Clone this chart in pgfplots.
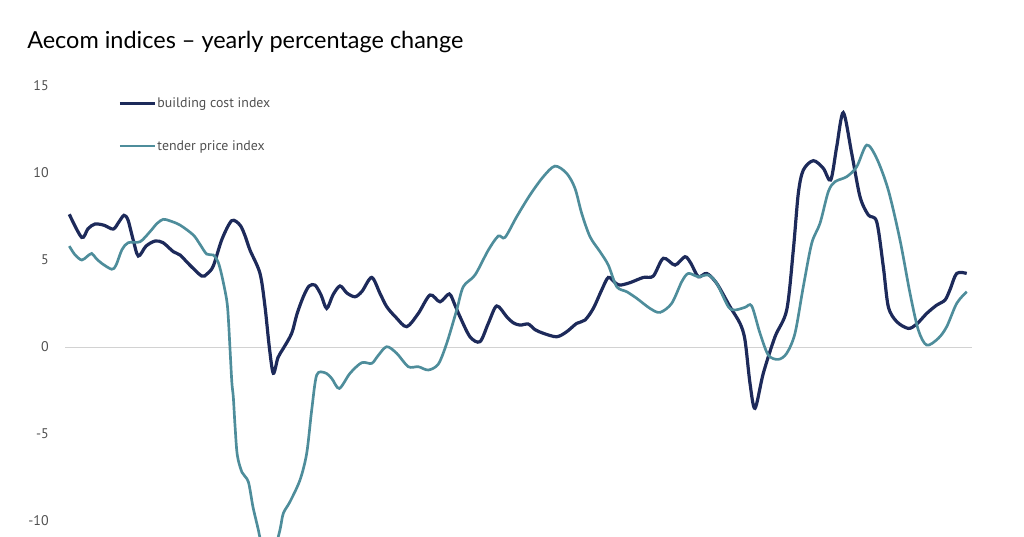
\documentclass[border=0pt]{standalone}
\usepackage{pgfplots}
\pgfplotsset{compat=1.18}
\usepackage{pgfplotstable}
\usepackage{fontspec}
\setmainfont{PT Sans}
\newfontfamily\titlefont{Lato}
\definecolor{navy}{HTML}{1D2A5A}
\definecolor{teal2}{HTML}{4E8D9B}
\definecolor{labgray}{HTML}{505050}

\pgfplotstableread{
x y
69.3 7.63
81.7 6.30
88 6.8
95 7.07
104 7.0
113.3 6.78
119 7.2
124 7.57
128 7.3
133 6.2
138.3 5.23
146 5.8
155 6.09
163 6.0
173.3 5.48
180 5.29
190 4.7
201.7 4.08
207 4.2
213.3 4.66
222 6.2
231.7 7.26
240 7.01
245 6.4
250 5.57
260 4.23
265 2.32
269.3 0.0
273.3 -1.51
278 -0.6
283.3 -0.08
291.7 0.79
297 1.9
303.3 2.89
309 3.5
315 3.56
321 3.0
326.7 2.22
333 3.0
340 3.51
347 3.1
355 2.89
362 3.2
371.7 4.0
380 3.08
386.7 2.32
396 1.7
406.7 1.17
418.3 1.93
430 2.99
440 2.60
449.3 3.05
455 2.4
460 1.74
470 0.59
480 0.31
488.3 1.36
496.7 2.36
506.7 1.74
513 1.4
520 1.26
528.3 1.32
535 1.0
543.3 0.79
556.7 0.59
566.7 0.88
576.7 1.36
585 1.55
593.3 2.22
601.7 3.28
608.3 4.0
615 3.7
620 3.56
630 3.70
643.3 4.0
653.3 4.08
663.3 5.10
675 4.71
685 5.19
691 4.8
698.3 4.04
706.7 4.23
716.7 3.66
730 2.32
740 1.36
745 0.40
750 -2.09
755 -3.52
763.3 -1.51
775 0.59
786.7 2.13
793.3 5.57
798.3 8.83
803.3 10.17
813.3 10.71
823.3 10.27
830.7 9.60
836.7 11.51
843.3 13.47
851.7 11.13
860 8.64
868.3 7.59
876.7 7.20
883.3 4.62
888.3 2.32
896.7 1.46
908.3 1.07
916.7 1.32
926.7 1.93
936.7 2.41
945 2.70
950 3.3
956.7 4.23
966.7 4.23
}\bci

\pgfplotstableread{
x y
69.3 5.80
75 5.3
81.7 5.0
87 5.2
91.7 5.38
96 5.1
101.7 4.81
111.7 4.47
116 4.7
122 5.6
128.3 6.0
140 6.05
150 6.63
157 7.1
163.3 7.34
170 7.25
180 7.01
193.3 6.44
200 5.9
206.7 5.34
213.3 5.29
218 4.9
221.7 4.14
226.7 2.70
228.5 1.5
231.7 -1.9
233.3 -2.86
235 -4.5
237.3 -6.21
242 -7.2
248.3 -7.74
253 -9.2
258.3 -10.5
263 -11.8
268 -12.3
274 -11.8
280 -10.5
283.3 -9.56
290 -8.89
300 -7.64
306.7 -6.11
311.7 -3.62
316.7 -1.61
325 -1.48
331.7 -1.80
339.3 -2.38
350 -1.51
361.7 -0.90
371.7 -0.94
378 -0.5
386.7 0.02
396.7 -0.36
408.3 -1.13
418.3 -1.13
428.3 -1.32
438.3 -0.98
446.7 0.21
456.7 2.13
463.3 3.47
475 4.14
488.3 5.57
498.3 6.38
505 6.30
516.7 7.49
530 8.74
543.3 9.79
555 10.40
566.7 9.98
575 9.12
581.7 7.68
590 6.34
600 5.48
608.3 4.71
616.7 3.47
626.7 3.18
636.7 2.80
650 2.22
660 1.99
671.7 2.51
681.7 3.75
688.3 4.23
698.3 4.04
708.3 4.14
716.7 3.66
728.3 2.32
735 2.13
745 2.28
751.7 2.36
760 0.79
768.3 -0.46
778.3 -0.71
786.7 -0.36
795 0.79
803.3 3.47
811.7 5.96
820 7.11
828.3 8.93
835 9.50
846.7 9.79
856.7 10.36
866.7 11.61
876.7 10.84
888.3 9.02
900 6.15
910 3.09
918.3 0.98
926.7 0.11
938.3 0.50
946.7 1.17
956.7 2.51
966.7 3.18
}\tpi

\begin{document}
\begin{tikzpicture}
\path[use as bounding box] (0,0) rectangle (768pt,402pt);
\node[anchor=base west, inner sep=0pt, font=\titlefont\fontsize{17.6}{21}\selectfont, text=black] at (20.25pt,365.8pt) {Aecom indices – yearly percentage change};
\begin{axis}[
  at={(48.75pt,0pt)}, anchor=south west,
  scale only axis, width=680.25pt, height=350.52pt,
  xmin=65, xmax=972, ymin=-10.86, ymax=16,
  axis line style={draw=none},
  major tick length=0pt,
  xtick=\empty,
  ytick={-10,-5,0,5,10,15},
  yticklabels={-10,-5,0,5,10,15},
  yticklabel style={anchor=east, inner sep=0pt, xshift=-12pt, font=\fontsize{10.5}{12}\selectfont, text=labgray},
  clip=true,
  legend style={at={(axis cs:118,14.42)}, anchor=north west, draw=none, fill=none,
    inner xsep=0pt, inner ysep=0pt, row sep=21pt,
    font=\fontsize{10.4}{12}\selectfont, text=labgray,
    nodes={inner sep=1pt}},
  legend cell align=left,
  legend image code/.code={\draw[#1] (0pt,0pt) -- (26pt,0pt);},
]
\addplot[color=gray!35, line width=0.8pt, forget plot] coordinates {(65,0) (972,0)};
\addplot[color=navy, line width=2.4pt, smooth, tension=0.5] table[x=x,y=y] {\bci};
\addlegendentry{building cost index}
\addplot[color=teal2, line width=2pt, smooth, tension=0.5] table[x=x,y=y] {\tpi};
\addlegendentry{tender price index}
\end{axis}
\end{tikzpicture}
\end{document}
